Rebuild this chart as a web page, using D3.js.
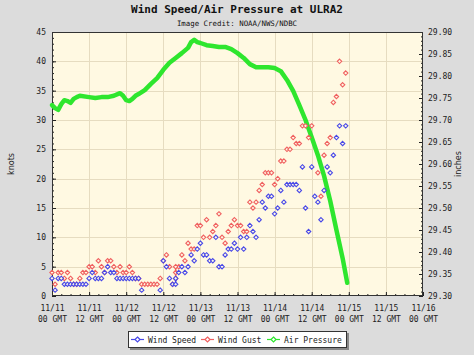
<!DOCTYPE html>
<html><head><meta charset="utf-8">
<script src="https://cdn.jsdelivr.net/npm/d3@7"></script>
<style>body{margin:0;background:#dcdcdc;}svg{display:block}</style>
</head><body><svg id="c" width="474" height="355"></svg>
<script>
const titleText = "Wind Speed/Air Pressure at ULRA2";
const subtitleText = "Image Credit: NOAA/NWS/NDBC";
const xTickHours = [0,12,24,36,48,60,72,84,96,108,120];
const xTickDates = ["11/11","11/11","11/12","11/12","11/13","11/13","11/14","11/14","11/15","11/15","11/16"];
const xTickTimes = ["00 GMT","12 GMT","00 GMT","12 GMT","00 GMT","12 GMT","00 GMT","12 GMT","00 GMT","12 GMT","00 GMT"];
const knotTicks = [0,5,10,15,20,25,30,35,40,45];
const inchTicks = [29.30,29.35,29.40,29.45,29.50,29.55,29.60,29.65,29.70,29.75,29.80,29.85,29.90];
const legendNames = ["Wind Speed","Wind Gust","Air Pressure"];

// hourly readings from 11/11 00 GMT (knots), null = no reading
const windSpeed = [3,1,3,3,2,2,2,2,2,2,2,2,3,4,3,3,3,4,5,4,4,3,3,3,3,3,3,3,3,1,
  null,null,null,null,null,1,6,5,3,2,3,4,5,4,5,7,6,8,9,7,7,6,6,10,5,5,7,8,8,9,
  8,10,8,10,12,11,10,13,16,15,17,17,14,15,18,16,19,19,19,19,18,22,15,11,22,17,16,13,18,22,
  21,24,27,29,26,29];
const windGust = [4,2,4,4,3,4,3,2,2,3,4,4,5,5,4,6,5,4,6,6,5,4,5,4,4,5,4,3,3,2,
  2,2,2,2,2,3,6,7,5,2,4,5,7,6,9,8,8,12,12,10,13,10,11,12,14,10,9,11,12,13,
  12,12,11,11,16,15,16,18,19,21,21,21,19,20,23,23,25,25,27,26,26,29,29,27,29,null,21,17,24,26,
  27,33,34,40,36,38];
// second readings logged in the same hour
const speedExtraHours = [40];
const speedExtraKnots = [2];
const gustExtraHours = [40,40];
const gustExtraKnots = [5,3];

const pressureHours = [0,1,2,3,4,5,6,7,8,9,12,14,16,18,20,22,23,24,25,26,27,28,30,32,34,36,38,40,42,44,45,46,47,48,50,52,54,56,58,60,62,64,66,68,70,72,74,76,78,80,82,84,86,88,90,92,94,95.5];
const pressureInches = [29.734,29.727,29.723,29.736,29.745,29.743,29.739,29.748,29.752,29.755,29.752,29.750,29.752,29.752,29.755,29.761,29.755,29.745,29.743,29.748,29.755,29.759,29.768,29.782,29.795,29.814,29.830,29.841,29.852,29.864,29.877,29.882,29.877,29.875,29.870,29.868,29.866,29.866,29.861,29.852,29.841,29.827,29.820,29.820,29.820,29.818,29.811,29.791,29.766,29.734,29.700,29.661,29.620,29.573,29.516,29.450,29.386,29.330];

const BLUE = "#4848e8", RED = "#f06060", GREEN = "#2ee62e";
const mono = "DejaVu Sans Mono";
const svg = d3.select("#c");
const L = 52, R = 423, T = 32, B = 296;
const x = d3.scaleLinear().domain([0,120]).range([L,R]);
const y = d3.scaleLinear().domain([0,45]).range([B,T]);
const yR = d3.scaleLinear().domain([29.30,29.90]).range([B,T]);

svg.append("rect").attr("width",474).attr("height",355).attr("fill","#dcdcdc");
svg.append("text").attr("x",237).attr("y",13).attr("text-anchor","middle")
  .attr("font-family",mono).attr("font-weight","bold").attr("font-size",11).attr("fill","#111").text(titleText);
svg.append("text").attr("x",237).attr("y",26).attr("text-anchor","middle")
  .attr("font-family",mono).attr("font-size",7.4).attr("fill","#111").text(subtitleText);

svg.append("rect").attr("x",L).attr("y",T).attr("width",R-L).attr("height",B-T).attr("fill","#fff9e2");

// grid
const grid = svg.append("g").attr("stroke","#e6dcc0").attr("stroke-width",1);
knotTicks.slice(1,-1).forEach(k => grid.append("line").attr("x1",L).attr("x2",R).attr("y1",Math.round(y(k))+0.5).attr("y2",Math.round(y(k))+0.5));
xTickHours.slice(1,-1).forEach(h => grid.append("line").attr("y1",T).attr("y2",B).attr("x1",Math.round(x(h))+0.5).attr("x2",Math.round(x(h))+0.5));

// axes
function styleAxis(g){ g.select(".domain").remove(); g.selectAll("line").attr("stroke","#222");
  g.selectAll("text").attr("font-family",mono).attr("font-size",8).attr("fill","#222"); }
svg.append("g").attr("transform",`translate(${L},0)`)
  .call(d3.axisLeft(y).tickValues(d3.range(0,46,1)).tickSize(-2).tickFormat("")).call(styleAxis);
svg.append("g").attr("transform",`translate(${L},0)`)
  .call(d3.axisLeft(y).tickValues(knotTicks).tickSize(-4).tickPadding(6)).call(styleAxis);
svg.append("g").attr("transform",`translate(${R},0)`)
  .call(d3.axisRight(yR).tickValues(d3.range(0,61).map(i=>29.30+i*0.01)).tickSize(-2).tickFormat("")).call(styleAxis);
svg.append("g").attr("transform",`translate(${R},0)`)
  .call(d3.axisRight(yR).tickValues(inchTicks).tickSize(-4).tickPadding(5).tickFormat(d3.format(".2f"))).call(styleAxis);
svg.append("g").attr("transform",`translate(0,${B})`)
  .call(d3.axisBottom(x).tickValues(d3.range(0,121,3)).tickSize(-2).tickFormat("")).call(styleAxis);
const xb = svg.append("g").attr("transform",`translate(0,${B})`)
  .call(d3.axisBottom(x).tickValues(xTickHours).tickSize(-4).tickFormat("")).call(styleAxis);
xb.selectAll(".tick").each(function(d,i){
  const t = d3.select(this).append("text").attr("font-family",mono).attr("font-size",8).attr("fill","#222").attr("text-anchor","middle");
  t.append("tspan").attr("x",0).attr("y",15).text(xTickDates[i]);
  t.append("tspan").attr("x",0).attr("y",25.5).text(xTickTimes[i]);
});
svg.append("rect").attr("x",L+0.5).attr("y",T+0.5).attr("width",R-L-1).attr("height",B-T-1).attr("fill","none").attr("stroke","#333");

svg.append("text").attr("transform","translate(14,164) rotate(-90)").attr("text-anchor","middle")
  .attr("font-family","DejaVu Sans").attr("font-size",8).attr("fill","#222").text("knots");
svg.append("text").attr("transform","translate(461,164) rotate(-90)").attr("text-anchor","middle")
  .attr("font-family","DejaVu Sans").attr("font-size",8).attr("fill","#222").text("inches");

// pressure
const pData = pressureHours.map((h,i)=>[h,pressureInches[i]]);
svg.append("path").datum(pData).attr("fill","none").attr("stroke",GREEN).attr("stroke-width",4.5)
  .attr("stroke-linejoin","round").attr("stroke-linecap","round")
  .attr("d",d3.line().x(d=>x(d[0])).y(d=>yR(d[1])));

const diamond = (cx,cy,r) => `M${cx},${cy-r}L${cx+r},${cy}L${cx},${cy+r}L${cx-r},${cy}Z`;
function drawSeries(vals, exH, exV, color){
  const pts = [];
  vals.forEach((v,h)=>{ if(v!==null) pts.push([h,v]); });
  exH.forEach((h,i)=>pts.push([h,exV[i]]));
  const g = svg.append("g");
  d3.groups(pts,d=>d[0]).forEach(([h,arr])=>{
    if(arr.length>1){ const e = d3.extent(arr,d=>d[1]);
      g.append("line").attr("x1",x(h)).attr("x2",x(h)).attr("y1",y(e[0])).attr("y2",y(e[1])).attr("stroke",color).attr("stroke-width",1.5);
    }
  });
  g.selectAll("path").data(pts).join("path")
    .attr("d",d=>diamond(x(d[0]),y(d[1]),2.2)).attr("fill","#fff9e2").attr("stroke",color).attr("stroke-width",1.1);
}
drawSeries(windGust, gustExtraHours, gustExtraKnots, RED);
drawSeries(windSpeed, speedExtraHours, speedExtraKnots, BLUE);

// legend
const lg = svg.append("g");
lg.append("rect").attr("x",130).attr("y",333).attr("width",219).attr("height",17).attr("fill","#888");
lg.append("rect").attr("x",128.5).attr("y",331.5).attr("width",218).attr("height",16).attr("fill","#fff").attr("stroke","#333");
const legendColors = [BLUE,RED,GREEN];
const legendX = [131,201,267];
legendNames.forEach((n,i)=>{
  const lx = legendX[i];
  lg.append("line").attr("x1",lx).attr("x2",lx+13).attr("y1",339.5).attr("y2",339.5).attr("stroke",legendColors[i]).attr("stroke-width",1.2);
  lg.append("path").attr("d",diamond(lx+6.5,339.5,2.5)).attr("fill","#fff").attr("stroke",legendColors[i]).attr("stroke-width",1.2);
  lg.append("text").attr("x",lx+17).attr("y",342.5).attr("font-family",mono).attr("font-size",8).attr("fill","#222").text(n);
});
</script></body></html>
